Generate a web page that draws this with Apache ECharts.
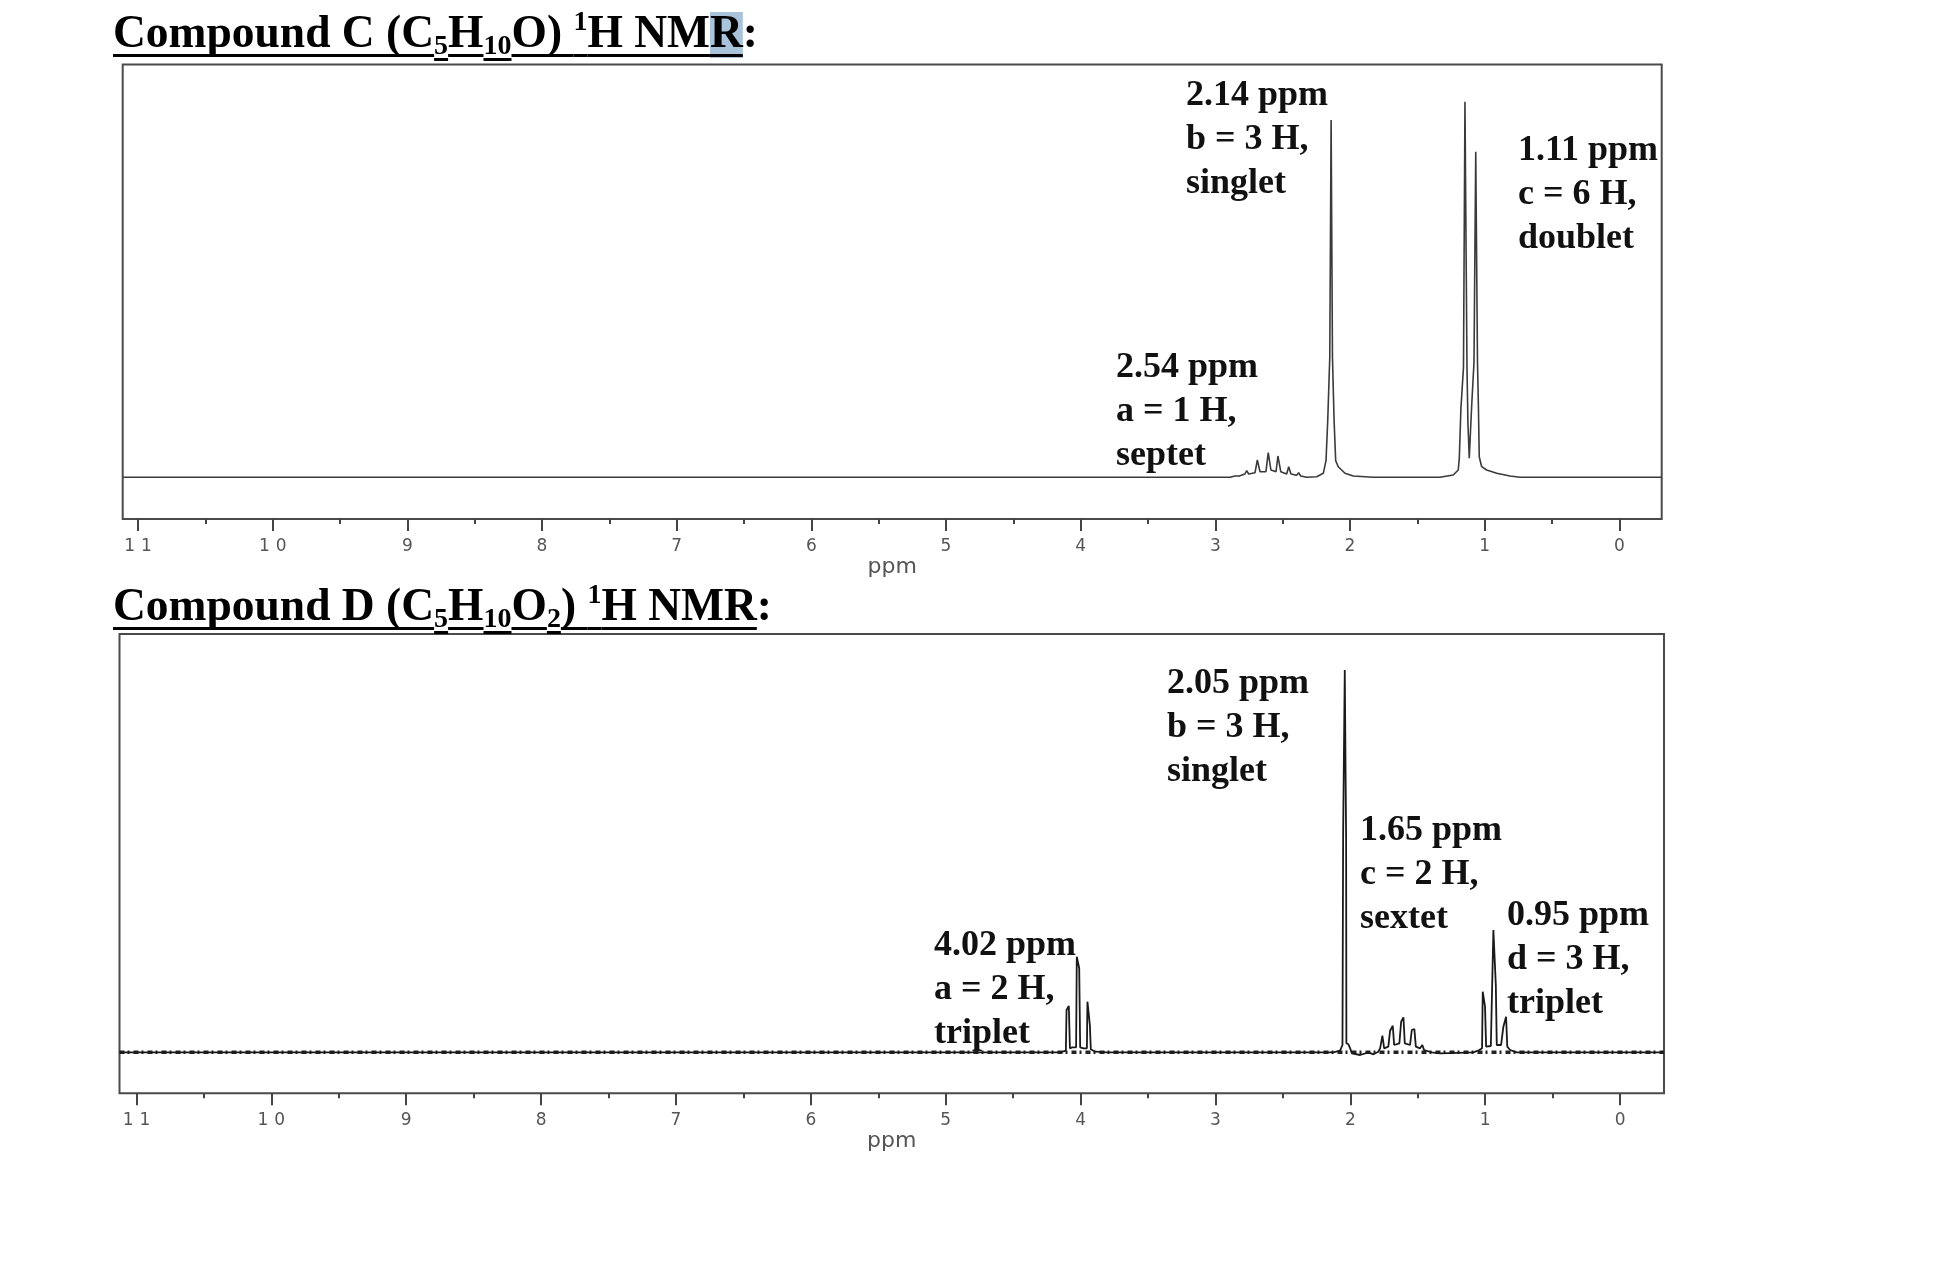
<!DOCTYPE html>
<html><head><meta charset="utf-8">
<script src="https://cdn.jsdelivr.net/npm/echarts@6/dist/echarts.min.js"></script>
<style>html,body{margin:0;padding:0;background:#fff;}#c{width:1953px;height:1270px;}</style>
</head><body><div id="c"></div>
<script>
// ---------- data ----------
const majorTicks = [0,1,2,3,4,5,6,7,8,9,10,11];
const minorTicks = [0.5,1.5,2.5,3.5,4.5,5.5,6.5,7.5,8.5,9.5,10.5];
const axisName = 'ppm';

// Compound C spectrum: [ppm, intensity]
const spectrumC = [
 [11.11,0],[2.891,0],[2.854,1.3],[2.841,2.6],[2.822,1.3],[2.780,3.3],[2.767,6.6],[2.752,3.3],
 [2.705,4.6],[2.688,17.3],[2.668,5.6],[2.624,5.6],[2.607,24.6],[2.587,7.3],[2.549,5.6],[2.535,21.3],
 [2.514,5.6],[2.470,3.3],[2.455,10.6],[2.438,3.3],[2.396,2.0],[2.381,4.6],[2.366,1.3],[2.321,0],
 [2.247,0.6],[2.198,4],[2.178,16.6],[2.165,57],[2.150,120],[2.140,357.3],[2.130,120],[2.118,57],
 [2.106,16.6],[2.087,10.6],[2.037,4],[1.975,1.3],[1.827,0],[1.332,0],[1.233,2.3],[1.196,7.3],
 [1.188,19],[1.176,69],[1.157,110],[1.146,375.6],[1.131,110],[1.124,54],[1.114,19],[1.096,72],
 [1.079,115],[1.066,325.6],[1.053,115],[1.046,70],[1.040,20.6],[1.022,10.6],[0.985,7.3],[0.910,4],
 [0.812,1.3],[0.737,0],[-0.315,0]
];

// Compound D spectrum: [ppm, intensity]
const spectrumD = [
 [11.126,0],[4.151,0],[4.109,1.7],[4.104,42.3],[4.087,46.3],[4.079,4],[4.062,5],[4.033,5],
 [4.028,95.6],[4.010,84],[4.003,5],[3.978,4],[3.953,4],[3.949,50.6],[3.931,27.3],[3.924,3],
 [3.892,0.6],[3.805,0],[2.125,0],[2.076,1.7],[2.058,7.3],[2.053,220.6],[2.041,382.3],[2.031,212.3],
 [2.029,9],[2.014,8],[2.001,4],[1.989,-1],[1.927,-2.7],[1.866,0],[1.829,-2],[1.792,0.6],
 [1.779,4],[1.762,16.6],[1.749,4],[1.718,5.6],[1.705,21.6],[1.685,26.6],[1.675,7.3],[1.636,9],
 [1.623,30.6],[1.606,35],[1.596,9],[1.557,7.3],[1.544,22.3],[1.525,23.3],[1.514,5.6],[1.483,4],
 [1.466,7.3],[1.453,2.3],[1.396,0],[1.334,-1],[1.087,0],[1.043,2.3],[1.023,4],[1.018,60.6],
 [1.001,45.6],[0.993,5.6],[0.958,6.3],[0.945,8],[0.939,122.3],[0.921,67.3],[0.914,7.3],[0.882,7.3],
 [0.865,25.6],[0.845,35.6],[0.836,5.6],[0.815,2.3],[0.766,0],[-0.326,0]
];
const baselineD = [[11.126,0],[-0.326,0]];

// titles (token text, kind: m=main, s=subscript, p=superscript, hl=highlighted)
const titleC = [['Compound C (C','m'],['5','s'],['H','m'],['10','s'],['O) ','m'],['1','p'],['H NM','m'],['R','hl'],[':','m']];
const titleD = [['Compound D (C','m'],['5','s'],['H','m'],['10','s'],['O','m'],['2','s'],[') ','m'],['1','p'],['H NMR','m'],[':','m']];

// peak annotations
const notesC = [['2.14 ppm','b = 3 H,','singlet'],['1.11 ppm','c = 6 H,','doublet'],['2.54 ppm','a = 1 H,','septet']];
const notesD = [['2.05 ppm','b = 3 H,','singlet'],['1.65 ppm','c = 2 H,','sextet'],['0.95 ppm','d = 3 H,','triplet'],['4.02 ppm','a = 2 H,','triplet']];

// ---------- layout / style ----------
const SERIF = '"Liberation Serif","Times New Roman",serif';
const mctx = document.createElement('canvas').getContext('2d');
function tw(t, size){ mctx.font = 'bold ' + size + 'px ' + SERIF; return mctx.measureText(t).width; }
const TSIZE = {m:45.5, s:28, p:28, hl:45.5};
const titleRich = {
  m:{fontFamily:SERIF,fontWeight:'bold',fontSize:45.5,lineHeight:52,fill:'#000'},
  s:{fontFamily:SERIF,fontWeight:'bold',fontSize:28,lineHeight:30,verticalAlign:'bottom',fill:'#000'},
  p:{fontFamily:SERIF,fontWeight:'bold',fontSize:28,lineHeight:20,verticalAlign:'top',fill:'#000'},
  hl:{fontFamily:SERIF,fontWeight:'bold',fontSize:45.5,lineHeight:40,backgroundColor:'#a9c3da',fill:'#000'}
};
function titleGraphics(tokens, x, top){
  const out = [];
  const text = tokens.map(t => '{' + t[1] + '|' + t[0] + '}').join('');
  out.push({type:'text', x:x, y:top, style:{text:text, rich:titleRich, verticalAlign:'top', align:'left'}});
  const base = top + 41;
  let cx = x;
  tokens.forEach((t, i) => {
    const w = tw(t[0], TSIZE[t[1]]);
    if (i < tokens.length - 1) {
      const y = t[1] === 's' ? base + 9.5 : base + 5.5;
      out.push({type:'line', shape:{x1:cx, y1:y, x2:cx + w, y2:y}, style:{stroke:'#000', lineWidth:3}});
    }
    cx += w;
  });
  return out;
}
function noteGraphic(lines, x, top){
  return {type:'text', x:x, y:top, style:{text:lines.join('\n'), font:'bold 36px ' + SERIF,
    fill:'#111', lineHeight:44, align:'left', verticalAlign:'top'}};
}
// spaced digits, like the stretched scan of the original axis
function spaced(str){ return String(str).split('').map(ch => '{g|' + ch + '}').join(''); }

function majorAxis(grid, min, max, gap){
  return {type:'value', gridIndex:grid, min:min, max:max, inverse:true, position:'bottom',
    name:axisName, nameLocation:'middle', nameGap:gap,
    nameTextStyle:{fontFamily:'DejaVu Sans', fontSize:22, color:'#555'},
    axisLine:{show:false, onZero:false}, splitLine:{show:false},
    axisTick:{show:true, customValues:majorTicks, length:12, lineStyle:{color:'#444', width:2}},
    axisLabel:{show:true, customValues:majorTicks, margin:19, fontFamily:'DejaVu Sans', fontSize:17, color:'#555',
      formatter: v => spaced(v),
      rich:{g:{fontFamily:'DejaVu Sans', fontSize:17, color:'#555', padding:[0,3,0,3]}}}};
}
function minorAxis(grid, min, max){
  return {type:'value', gridIndex:grid, min:min, max:max, inverse:true, position:'bottom',
    axisLine:{show:false, onZero:false}, splitLine:{show:false},
    axisTick:{show:true, customValues:minorTicks, length:5, lineStyle:{color:'#444', width:2}},
    axisLabel:{show:false}};
}

const graphic = [].concat(
  titleGraphics(titleC, 113, 9),
  titleGraphics(titleD, 113, 582),
  [noteGraphic(notesC[0], 1186, 74), noteGraphic(notesC[1], 1518, 129), noteGraphic(notesC[2], 1116, 346),
   noteGraphic(notesD[0], 1167, 662), noteGraphic(notesD[1], 1360, 809), noteGraphic(notesD[2], 1507, 894),
   noteGraphic(notesD[3], 934, 924)]
);

const chart = echarts.init(document.getElementById('c'), null, {renderer:'canvas'});
chart.setOption({
  animation:false,
  backgroundColor:'#ffffff',
  grid:[
    {left:122.7, top:64.5, width:1539, height:454.5, show:true, borderColor:'#4a4a4a', borderWidth:2, containLabel:false, outerBoundsMode:'none'},
    {left:119.5, top:634, width:1544.5, height:459.3, show:true, borderColor:'#4a4a4a', borderWidth:2, containLabel:false, outerBoundsMode:'none'}
  ],
  xAxis:[
    majorAxis(0, -0.315, 11.114, 32), minorAxis(0, -0.315, 11.114),
    majorAxis(1, -0.326, 11.126, 30), minorAxis(1, -0.326, 11.126)
  ],
  yAxis:[
    {type:'value', gridIndex:0, min:-41.7, max:412.8, show:false},
    {type:'value', gridIndex:1, min:-41, max:418.3, show:false}
  ],
  series:[
    {type:'line', xAxisIndex:0, yAxisIndex:0, data:spectrumC, symbol:'none', silent:true,
      lineStyle:{color:'#3a3a3a', width:1.6}},
    {type:'line', xAxisIndex:2, yAxisIndex:1, data:baselineD, symbol:'none', silent:true, z:1,
      lineStyle:{color:'#222', width:3.5, type:[5,3,2,4]}},
    {type:'line', xAxisIndex:2, yAxisIndex:1, data:spectrumD, symbol:'none', silent:true, z:2,
      lineStyle:{color:'#1a1a1a', width:1.8}}
  ],
  graphic:graphic
});
</script></body></html>
